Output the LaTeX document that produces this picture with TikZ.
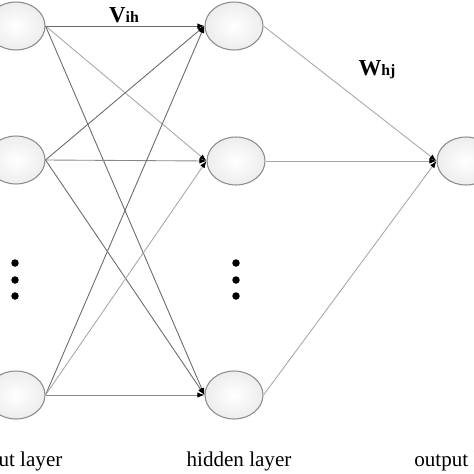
\documentclass[tikz,border=0pt]{standalone}
\usepackage{fontspec}
\setmainfont{Liberation Serif}
\usepackage{tikz}
\usetikzlibrary{arrows.meta}
\usetikzlibrary{shapes.geometric}
\definecolor{nn-line}{HTML}{6A6A6A}
\definecolor{nn-light}{HTML}{A8A8A8}
\definecolor{nn-rim}{HTML}{8C8C8C}

\begin{document}
\begin{tikzpicture}[x=0.02cm, y=-0.02cm, >={Latex[length=4pt,width=3pt,color=black]},
    neuron/.style={ellipse, draw=nn-rim, line width=0.6pt, inner color=white, outer color=gray!14,
        minimum width=1.16cm, minimum height=0.96cm, inner sep=0pt},
    link/.style={->, nn-line, line width=0.5pt},
    faint/.style={->, nn-light, line width=0.5pt},
    layername/.style={font=\fontsize{12}{14}\selectfont, anchor=base}]
    \useasboundingbox (0,0) rectangle (474,474);

    % Neurons
    \node[neuron] (in1) at (16,26) {};
    \node[neuron] (in2) at (16,160) {};
    \node[neuron] (in3) at (16,395) {};
    \node[neuron] (hid1) at (234,26) {};
    \node[neuron] (hid2) at (236,161) {};
    \node[neuron] (hid3) at (234,395) {};
    \node[neuron] (out) at (466,161) {};

    % Vertical ellipsis dots
    \foreach \y in {263, 280, 296} {
        \fill (15,\y) circle (0.075cm);
        \fill (236,\y) circle (0.075cm);
    }

    % Input -> hidden weights
    \draw[link] (in1.east) -- (hid1.west);
    \draw[faint] (in1.east) -- (hid2.west);
    \draw[link] (in1.east) -- (hid3.west);
    \draw[link] (in2.east) -- (hid1.west);
    \draw[link, nn-line!80!white] (in2.east) -- (hid2.west);
    \draw[link] (in2.east) -- (hid3.west);
    \draw[link] (in3.east) -- (hid1.west);
    \draw[faint] (in3.east) -- (hid2.west);
    \draw[link, nn-line!80!white] (in3.east) -- (hid3.west);

    % Hidden -> output weights
    \draw[faint] (hid1.east) -- (out.west);
    \draw[faint] (hid2.east) -- (out.west);
    \draw[faint] (hid3.east) -- (out.west);

    % Weight labels
    \node[font=\bfseries] (vlabel) at (124,15) {\fontsize{13}{15}\selectfont V\fontsize{9}{11}\selectfont ih};
    \node[font=\bfseries] (wlabel) at (377,70) {\fontsize{13}{15}\selectfont W\fontsize{9}{11}\selectfont hj};

    % Layer names
    \node[layername] (inname) at (17,466) {input layer};
    \node[layername] (hidname) at (239,466) {hidden layer};
    \node[layername] (outname) at (465,466) {output layer};
\end{tikzpicture}
\end{document}
